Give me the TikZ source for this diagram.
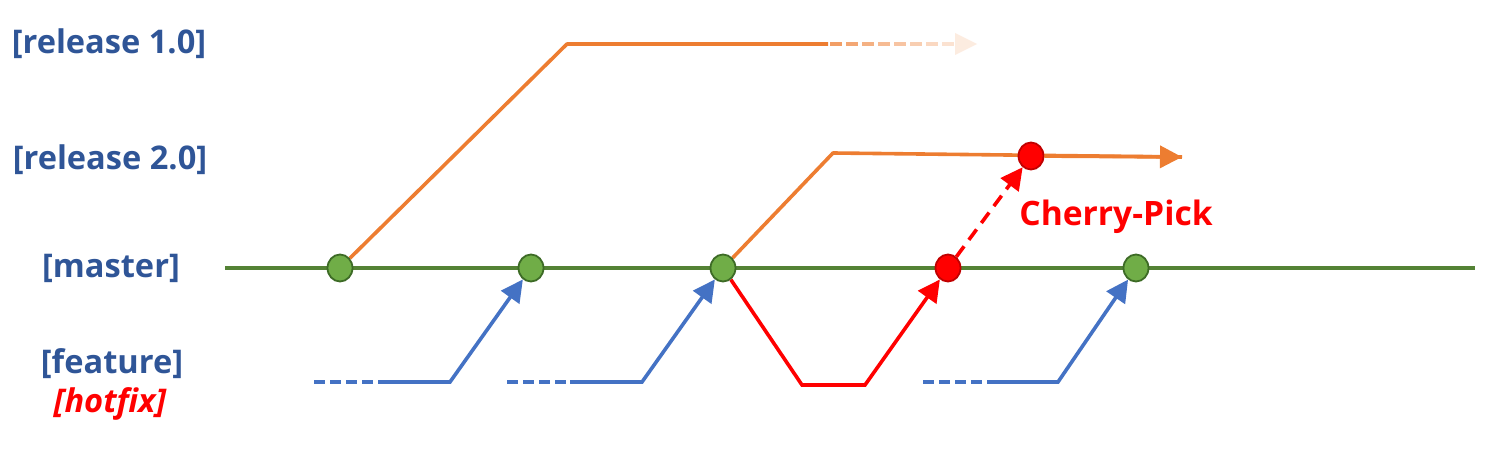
\documentclass[tikz,border=0pt]{standalone}
\usepackage{fontspec}
\setmainfont{Open Sans}
\usetikzlibrary{arrows.meta,shapes.geometric,backgrounds}
\definecolor{lblue}{HTML}{2F5597}
\definecolor{orng}{HTML}{ED7D31}
\definecolor{mgreen}{HTML}{548235}
\definecolor{cfill}{HTML}{70AD47}
\definecolor{cdraw}{HTML}{3D6B26}
\definecolor{fblue}{HTML}{4472C4}
\definecolor{hred}{HTML}{FF0000}
\definecolor{rdraw}{HTML}{C00000}
\tikzset{
  lab/.style={text=lblue, font=\fontsize{16.3}{19}\selectfont\bfseries, inner sep=0pt},
  commit/.style={ellipse, fill=cfill, draw=cdraw, line width=0.9pt, minimum width=12.5pt, minimum height=13.5pt, inner sep=0pt},
  rcommit/.style={ellipse, fill=hred, draw=rdraw, line width=0.9pt, minimum width=12.5pt, minimum height=13.5pt, inner sep=0pt},
  masterline/.style={draw=mgreen, line width=1.8pt},
  relline/.style={draw=orng, line width=1.8pt},
  featline/.style={draw=fblue, line width=1.8pt},
  featdash/.style={draw=fblue, line width=1.8pt, dash pattern=on 5.5pt off 2.5pt},
  hotline/.style={draw=hred, line width=1.8pt},
  tip/.style={-{Triangle[length=11pt,width=11pt]}},
}
\begin{document}
\begin{tikzpicture}[x=0.5pt,y=-0.5pt]
\useasboundingbox (0,0) rectangle (1501,454);
% labels
\node[lab] (l1) at (109,44) {[release 1.0]};
\node[lab] (l2) at (110,160) {[release 2.0]};
\node[lab] (l3) at (111,268) {[master]};
\node[lab] (l4) at (112,364) {[feature]};
\node[lab, text=hred, font=\fontsize{16.3}{19}\selectfont\bfseries\itshape] (l5) at (110,404) {[hotfix]};
\node[text=hred, font=\fontsize{16.8}{19}\selectfont\bfseries, inner sep=0pt] (cp) at (1116,217) {Cherry-Pick};
% commits
\node[commit] (m1) at (340,268) {};
\node[commit] (m2) at (531,268) {};
\node[commit] (m3) at (723,268) {};
\node[rcommit] (m4) at (948,268) {};
\node[commit] (m5) at (1136,268) {};
\node[rcommit] (r2) at (1031,156) {};
% coordinates
\coordinate (ms) at (225,268);
\coordinate (me) at (1475,268);
\coordinate (r1a) at (567,44);
\coordinate (r1b) at (828,44);
\coordinate (r2a) at (833,153);
\coordinate (r2b) at (1182,157);
\coordinate (f1a) at (314,382);
\coordinate (f1b) at (378,382);
\coordinate (f1c) at (450,382);
\coordinate (f2a) at (507,382);
\coordinate (f2b) at (570,382);
\coordinate (f2c) at (642,382);
\coordinate (f3a) at (923,382);
\coordinate (f3b) at (987,382);
\coordinate (f3c) at (1058,382);
\coordinate (h1) at (802,385);
\coordinate (h2) at (865,385);
\begin{pgfonlayer}{background}
\draw[masterline] (ms) -- (me);
% release 1.0
\draw[relline, line join=round] (m1) -- (r1a) -- (r1b);
\foreach \i in {0,...,7}{
  \pgfmathsetmacro{\op}{0.75-0.075*\i}
  \draw[draw=orng, line width=1.8pt, opacity=\op] ({830+16*\i},44) -- ({842+16*\i},44);
}
\fill[orng, opacity=0.15] (955,33) -- (977,44) -- (955,55) -- cycle;
% release 2.0
\draw[relline, line join=round] (m3) -- (r2a) -- (r2b);
% feature branches
\draw[featdash] (f1a) -- (f1b);
\draw[featline, tip] (f1b) -- (f1c) -- (m2);
\draw[featdash] (f2a) -- (f2b);
\draw[featline, tip] (f2b) -- (f2c) -- (m3);
\draw[featdash] (f3a) -- (f3b);
\draw[featline, tip] (f3b) -- (f3c) -- (m5);
% hotfix
\draw[hotline, tip] (m3) -- (h1) -- (h2) -- (m4);
% cherry-pick
\draw[hotline, dash pattern=on 6.5pt off 4pt, tip] (m4) -- (r2);
\end{pgfonlayer}
\draw[orng, line width=1.8pt, tip] (r2) -- (r2b);
\end{tikzpicture}
\end{document}
